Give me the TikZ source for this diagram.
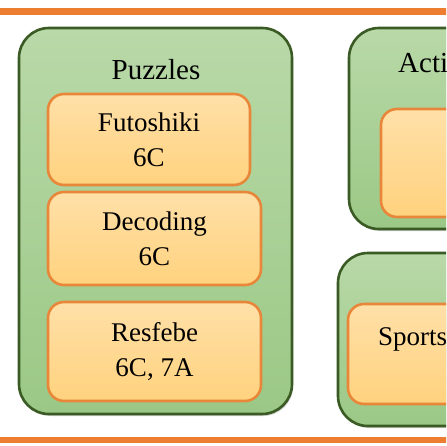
\documentclass[tikz,border=0pt]{standalone}
\usepackage{fontspec}
\setmainfont{Liberation Serif}
\usetikzlibrary{shadows}
\definecolor{lineorange}{HTML}{ED7D31}
\definecolor{boxorange}{HTML}{E8873A}
\definecolor{greenborder}{HTML}{3B5B25}
\definecolor{greentop}{HTML}{B9D9A8}
\definecolor{greenbot}{HTML}{9BC886}
\definecolor{orangetop}{HTML}{FFE0A8}
\definecolor{orangebot}{HTML}{FFD27E}
\tikzset{
  outerbox/.style={draw=greenborder, line width=2.6pt, rounded corners=30pt,
    top color=greentop, bottom color=greenbot, inner sep=0pt,
    drop shadow={shadow xshift=1.2pt, shadow yshift=-2pt, opacity=0.35}},
  innerbox/.style={draw=boxorange, line width=2.6pt, rounded corners=16pt,
    top color=orangetop, bottom color=orangebot, inner sep=0pt,
    align=center, font=\fontsize{27}{35}\selectfont},
  titletext/.style={inner sep=0pt, font=\fontsize{29}{35}\selectfont},
  sepline/.style={draw=lineorange, line width=6.5pt}
}
\begin{document}
\begin{tikzpicture}[x=1pt, y=-1pt]
\useasboundingbox (0,0) rectangle (446,446);
\clip (0,0) rectangle (446,446);
\fill[white] (0,0) rectangle (446,446);
% separator lines
\coordinate (tl) at (-10,11.5);
\coordinate (tr) at (460,11.5);
\coordinate (bl) at (-10,440);
\coordinate (br) at (460,440);
\draw[sepline] (tl) -- (tr);
\draw[sepline] (bl) -- (br);
% Puzzles group
\node[outerbox, minimum width=273pt, minimum height=386pt] (puz) at (155.5,221) {};
\node[titletext, anchor=base] (puzt) at (156,80) {Puzzles};
\node[innerbox, minimum width=202pt, minimum height=91pt] (fut) at (149,139.5) {Futoshiki\\6C};
\node[innerbox, minimum width=213pt, minimum height=93pt] (dec) at (154.5,238.5) {Decoding\\6C};
\node[innerbox, minimum width=213pt, minimum height=99pt] (res) at (154.5,351.5) {Resfebe\\6C, 7A};
% right top group
\node[outerbox, minimum width=210pt, minimum height=201pt] (act) at (454,128.5) {};
\node[titletext, anchor=base west] (actt) at (398,73) {Activities};
\node[innerbox, minimum width=158pt, minimum height=108pt] (acti) at (460,163) {};
% right bottom group
\node[outerbox, minimum width=221pt, minimum height=173pt] (spo) at (448.5,339.5) {};
\node[innerbox, minimum width=201pt, minimum height=100pt] (spoi) at (448.5,354) {};
\node[titletext, anchor=base west, font=\fontsize{27}{35}\selectfont] (spot) at (378,345) {Sports};
\end{tikzpicture}
\end{document}
